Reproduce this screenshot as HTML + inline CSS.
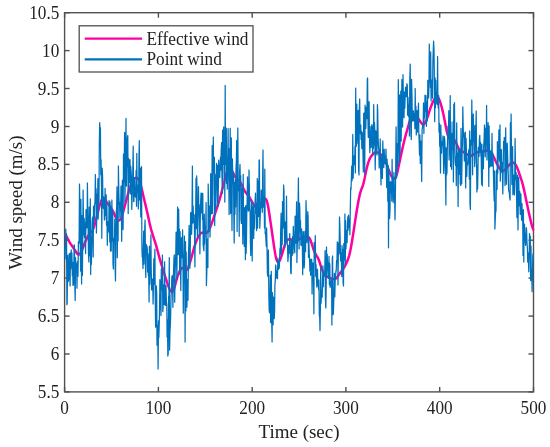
<!DOCTYPE html>
<html><head><meta charset="utf-8"><style>
html,body{margin:0;padding:0;background:#fff;width:550px;height:447px;overflow:hidden}
svg{display:block}
text{font-family:"Liberation Serif",serif;font-size:17.2px;fill:#222}
.lab{font-size:19px}
.leg{font-size:17.3px}
</style></head><body>
<svg width="550" height="447" viewBox="0 0 550 447">
<rect width="550" height="447" fill="#fff"/>
<defs><clipPath id="c"><rect x="63.8" y="11.899999999999999" width="470.5" height="380.8"/></clipPath></defs>
<g stroke="#505050" stroke-width="1.4" fill="none">
<rect x="64.6" y="12.7" width="468.9" height="379.2"/>
<line x1="64.6" y1="391.9" x2="64.6" y2="386.9"/><line x1="64.6" y1="12.7" x2="64.6" y2="17.7"/><line x1="158.4" y1="391.9" x2="158.4" y2="386.9"/><line x1="158.4" y1="12.7" x2="158.4" y2="17.7"/><line x1="252.2" y1="391.9" x2="252.2" y2="386.9"/><line x1="252.2" y1="12.7" x2="252.2" y2="17.7"/><line x1="345.9" y1="391.9" x2="345.9" y2="386.9"/><line x1="345.9" y1="12.7" x2="345.9" y2="17.7"/><line x1="439.7" y1="391.9" x2="439.7" y2="386.9"/><line x1="439.7" y1="12.7" x2="439.7" y2="17.7"/><line x1="533.5" y1="391.9" x2="533.5" y2="386.9"/><line x1="533.5" y1="12.7" x2="533.5" y2="17.7"/><line x1="64.6" y1="391.9" x2="69.6" y2="391.9"/><line x1="533.5" y1="391.9" x2="528.5" y2="391.9"/><line x1="64.6" y1="354.0" x2="69.6" y2="354.0"/><line x1="533.5" y1="354.0" x2="528.5" y2="354.0"/><line x1="64.6" y1="316.1" x2="69.6" y2="316.1"/><line x1="533.5" y1="316.1" x2="528.5" y2="316.1"/><line x1="64.6" y1="278.1" x2="69.6" y2="278.1"/><line x1="533.5" y1="278.1" x2="528.5" y2="278.1"/><line x1="64.6" y1="240.2" x2="69.6" y2="240.2"/><line x1="533.5" y1="240.2" x2="528.5" y2="240.2"/><line x1="64.6" y1="202.3" x2="69.6" y2="202.3"/><line x1="533.5" y1="202.3" x2="528.5" y2="202.3"/><line x1="64.6" y1="164.4" x2="69.6" y2="164.4"/><line x1="533.5" y1="164.4" x2="528.5" y2="164.4"/><line x1="64.6" y1="126.5" x2="69.6" y2="126.5"/><line x1="533.5" y1="126.5" x2="528.5" y2="126.5"/><line x1="64.6" y1="88.5" x2="69.6" y2="88.5"/><line x1="533.5" y1="88.5" x2="528.5" y2="88.5"/><line x1="64.6" y1="50.6" x2="69.6" y2="50.6"/><line x1="533.5" y1="50.6" x2="528.5" y2="50.6"/><line x1="64.6" y1="12.7" x2="69.6" y2="12.7"/><line x1="533.5" y1="12.7" x2="528.5" y2="12.7"/>
</g>
<g clip-path="url(#c)">
<polyline fill="none" stroke="#FF00A0" stroke-width="2.5" stroke-linejoin="round" points="64.6,234.0 65.1,234.4 65.6,235.0 66.1,235.7 66.6,236.6 67.1,237.5 67.6,238.5 68.1,239.6 68.6,240.5 69.1,241.4 69.6,242.3 70.1,243.1 70.6,243.9 71.1,244.6 71.6,245.3 72.1,246.1 72.6,246.8 73.1,247.5 73.6,248.2 74.1,249.0 74.6,249.7 75.1,250.5 75.6,251.3 76.1,252.0 76.6,252.8 77.1,253.5 77.6,254.0 78.1,254.4 78.6,254.6 79.1,254.5 79.6,254.2 80.1,253.6 80.6,252.8 81.1,251.9 81.6,250.8 82.1,249.7 82.6,248.5 83.1,247.3 83.6,246.1 84.1,244.8 84.6,243.6 85.1,242.3 85.6,241.1 86.1,240.0 86.6,238.9 87.1,237.9 87.6,236.9 88.1,236.0 88.6,235.2 89.1,234.5 89.6,233.9 90.1,233.4 90.6,232.9 91.1,232.5 91.6,231.9 92.1,231.2 92.6,230.3 93.1,229.2 93.6,227.8 94.1,226.3 94.6,224.7 95.1,222.9 95.6,221.1 96.1,219.2 96.6,217.3 97.1,215.3 97.6,213.4 98.1,211.4 98.6,209.4 99.1,207.5 99.6,205.6 100.1,204.0 100.6,202.4 101.1,201.1 101.6,200.0 102.1,199.2 102.6,198.7 103.1,198.5 103.6,198.6 104.1,199.0 104.6,199.5 105.1,200.1 105.6,200.7 106.1,201.4 106.6,202.0 107.1,202.7 107.6,203.3 108.1,204.0 108.6,204.6 109.1,205.3 109.6,205.9 110.1,206.6 110.6,207.3 111.1,208.0 111.6,208.8 112.1,209.6 112.6,210.5 113.1,211.5 113.6,212.5 114.1,213.6 114.6,214.8 115.1,215.9 115.6,217.0 116.1,218.0 116.6,218.9 117.1,219.6 117.6,220.1 118.1,220.5 118.6,220.6 119.1,220.5 119.6,220.2 120.1,219.7 120.6,218.9 121.1,218.0 121.6,216.8 122.1,215.5 122.6,213.9 123.1,212.2 123.6,210.4 124.1,208.5 124.6,206.6 125.1,204.7 125.6,202.9 126.1,201.0 126.6,199.1 127.1,197.3 127.6,195.5 128.1,193.7 128.6,191.9 129.1,190.2 129.6,188.6 130.1,187.1 130.6,185.8 131.1,184.5 131.6,183.4 132.1,182.3 132.6,181.4 133.1,180.5 133.6,179.7 134.1,179.0 134.6,178.4 135.1,178.1 135.6,177.9 136.1,177.8 136.6,177.9 137.1,178.1 137.6,178.4 138.1,178.9 138.6,179.6 139.1,180.4 139.6,181.5 140.1,182.8 140.6,184.3 141.1,186.2 141.6,188.2 142.1,190.3 142.6,192.5 143.1,194.8 143.6,197.0 144.1,199.1 144.6,201.2 145.1,203.3 145.6,205.4 146.1,207.5 146.6,209.6 147.1,211.8 147.6,214.0 148.1,216.3 148.6,218.6 149.1,220.9 149.6,223.2 150.1,225.4 150.6,227.4 151.1,229.4 151.6,231.1 152.1,232.8 152.6,234.4 153.1,236.0 153.6,237.5 154.1,239.1 154.6,240.6 155.1,242.2 155.6,243.8 156.1,245.4 156.6,247.2 157.1,249.0 157.6,250.9 158.1,252.8 158.6,254.6 159.1,256.5 159.6,258.3 160.1,260.0 160.6,261.7 161.1,263.4 161.6,265.1 162.1,266.7 162.6,268.4 163.1,270.0 163.6,271.6 164.1,273.2 164.6,274.8 165.1,276.4 165.6,278.0 166.1,279.5 166.6,281.0 167.1,282.6 167.6,284.0 168.1,285.4 168.6,286.8 169.1,288.0 169.6,289.2 170.1,290.2 170.6,290.9 171.1,291.5 171.6,291.7 172.1,291.7 172.6,291.4 173.1,290.8 173.6,289.8 174.1,288.5 174.6,287.0 175.1,285.2 175.6,283.3 176.1,281.4 176.6,279.6 177.1,277.9 177.6,276.3 178.1,274.9 178.6,273.6 179.1,272.4 179.6,271.3 180.1,270.3 180.6,269.5 181.1,268.9 181.6,268.4 182.1,268.2 182.6,268.1 183.1,268.2 183.6,268.4 184.1,268.8 184.6,269.3 185.1,269.7 185.6,270.1 186.1,270.3 186.6,270.1 187.1,269.7 187.6,268.8 188.1,267.8 188.6,266.5 189.1,265.1 189.6,263.6 190.1,262.1 190.6,260.5 191.1,258.8 191.6,257.0 192.1,255.2 192.6,253.3 193.1,251.4 193.6,249.6 194.1,247.9 194.6,246.2 195.1,244.6 195.6,243.1 196.1,241.8 196.6,240.5 197.1,239.3 197.6,238.3 198.1,237.3 198.6,236.4 199.1,235.6 199.6,234.8 200.1,234.1 200.6,233.5 201.1,233.1 201.6,232.8 202.1,232.7 202.6,232.7 203.1,232.7 203.6,232.8 204.1,232.9 204.6,233.0 205.1,233.1 205.6,233.0 206.1,232.9 206.6,232.7 207.1,232.4 207.6,232.0 208.1,231.4 208.6,230.7 209.1,229.8 209.6,228.7 210.1,227.6 210.6,226.4 211.1,225.0 211.6,223.7 212.1,222.3 212.6,220.8 213.1,219.3 213.6,217.8 214.1,216.3 214.6,214.8 215.1,213.4 215.6,211.9 216.1,210.4 216.6,208.9 217.1,207.4 217.6,205.9 218.1,204.3 218.6,202.7 219.1,201.1 219.6,199.4 220.1,197.6 220.6,195.9 221.1,194.0 221.6,192.2 222.1,190.3 222.6,188.3 223.1,186.4 223.6,184.4 224.1,182.4 224.6,180.4 225.1,178.4 225.6,176.5 226.1,174.7 226.6,173.0 227.1,171.4 227.6,170.2 228.1,169.1 228.6,168.4 229.1,167.9 229.6,167.8 230.1,168.0 230.6,168.5 231.1,169.1 231.6,169.9 232.1,170.9 232.6,171.8 233.1,172.8 233.6,173.8 234.1,174.8 234.6,175.7 235.1,176.5 235.6,177.3 236.1,177.9 236.6,178.5 237.1,179.0 237.6,179.4 238.1,179.8 238.6,180.3 239.1,180.8 239.6,181.4 240.1,182.1 240.6,182.8 241.1,183.7 241.6,184.6 242.1,185.6 242.6,186.6 243.1,187.7 243.6,188.8 244.1,189.8 244.6,190.7 245.1,191.5 245.6,192.3 246.1,192.9 246.6,193.5 247.1,194.1 247.6,194.7 248.1,195.3 248.6,196.0 249.1,196.7 249.6,197.5 250.1,198.4 250.6,199.3 251.1,200.2 251.6,201.1 252.1,202.0 252.6,202.9 253.1,203.8 253.6,204.6 254.1,205.4 254.6,206.0 255.1,206.6 255.6,207.0 256.1,207.3 256.6,207.4 257.1,207.3 257.6,207.0 258.1,206.7 258.6,206.2 259.1,205.6 259.6,205.0 260.1,204.3 260.6,203.6 261.1,202.9 261.6,202.2 262.1,201.5 262.6,200.8 263.1,200.1 263.6,199.5 264.1,199.1 264.6,198.8 265.1,198.7 265.6,198.9 266.1,199.4 266.6,200.5 267.1,202.0 267.6,204.0 268.1,206.5 268.6,209.3 269.1,212.5 269.6,215.8 270.1,219.2 270.6,222.6 271.1,226.0 271.6,229.5 272.1,233.0 272.6,236.5 273.1,240.0 273.6,243.5 274.1,246.9 274.6,250.1 275.1,253.1 275.6,255.8 276.1,258.1 276.6,259.8 277.1,261.1 277.6,261.8 278.1,262.1 278.6,262.0 279.1,261.5 279.6,260.8 280.1,259.8 280.6,258.6 281.1,257.2 281.6,255.7 282.1,254.1 282.6,252.4 283.1,250.7 283.6,249.0 284.1,247.3 284.6,245.7 285.1,244.2 285.6,242.9 286.1,241.8 286.6,240.9 287.1,240.3 287.6,239.8 288.1,239.5 288.6,239.4 289.1,239.3 289.6,239.3 290.1,239.3 290.6,239.4 291.1,239.4 291.6,239.5 292.1,239.5 292.6,239.6 293.1,239.7 293.6,239.8 294.1,239.9 294.6,239.9 295.1,240.0 295.6,240.0 296.1,240.0 296.6,240.0 297.1,239.9 297.6,239.8 298.1,239.6 298.6,239.5 299.1,239.2 299.6,239.0 300.1,238.7 300.6,238.4 301.1,238.1 301.6,237.8 302.1,237.5 302.6,237.2 303.1,236.9 303.6,236.7 304.1,236.6 304.6,236.4 305.1,236.4 305.6,236.3 306.1,236.3 306.6,236.4 307.1,236.5 307.6,236.7 308.1,236.9 308.6,237.2 309.1,237.7 309.6,238.3 310.1,239.2 310.6,240.4 311.1,241.8 311.6,243.4 312.1,245.0 312.6,246.6 313.1,248.2 313.6,249.7 314.1,251.0 314.6,252.1 315.1,253.2 315.6,254.1 316.1,255.0 316.6,255.8 317.1,256.6 317.6,257.4 318.1,258.3 318.6,259.4 319.1,260.7 319.6,262.2 320.1,263.7 320.6,265.3 321.1,266.9 321.6,268.3 322.1,269.6 322.6,270.8 323.1,271.9 323.6,272.8 324.1,273.6 324.6,274.3 325.1,274.9 325.6,275.4 326.1,275.9 326.6,276.3 327.1,276.7 327.6,277.0 328.1,277.3 328.6,277.5 329.1,277.7 329.6,277.9 330.1,278.1 330.6,278.3 331.1,278.4 331.6,278.6 332.1,278.7 332.6,278.9 333.1,279.0 333.6,279.1 334.1,279.1 334.6,279.1 335.1,279.0 335.6,278.8 336.1,278.5 336.6,278.0 337.1,277.4 337.6,276.7 338.1,275.9 338.6,275.2 339.1,274.4 339.6,273.7 340.1,273.0 340.6,272.3 341.1,271.7 341.6,271.0 342.1,270.3 342.6,269.7 343.1,269.0 343.6,268.2 344.1,267.5 344.6,266.6 345.1,265.8 345.6,264.8 346.1,263.8 346.6,262.7 347.1,261.5 347.6,260.3 348.1,258.9 348.6,257.4 349.1,255.8 349.6,253.9 350.1,251.7 350.6,249.3 351.1,246.6 351.6,243.7 352.1,240.7 352.6,237.5 353.1,234.4 353.6,231.2 354.1,227.9 354.6,224.6 355.1,221.4 355.6,218.1 356.1,214.9 356.6,211.8 357.1,208.8 357.6,205.8 358.1,203.0 358.6,200.3 359.1,197.7 359.6,195.4 360.1,193.4 360.6,191.6 361.1,190.1 361.6,188.8 362.1,187.5 362.6,186.2 363.1,184.7 363.6,182.9 364.1,180.8 364.6,178.6 365.1,176.1 365.6,173.6 366.1,171.1 366.6,168.8 367.1,166.7 367.6,164.8 368.1,163.1 368.6,161.7 369.1,160.3 369.6,159.1 370.1,158.1 370.6,157.2 371.1,156.4 371.6,155.7 372.1,155.1 372.6,154.5 373.1,154.0 373.6,153.6 374.1,153.1 374.6,152.8 375.1,152.5 375.6,152.3 376.1,152.3 376.6,152.3 377.1,152.4 377.6,152.5 378.1,152.7 378.6,152.9 379.1,153.1 379.6,153.4 380.1,153.8 380.6,154.2 381.1,154.7 381.6,155.2 382.1,155.8 382.6,156.5 383.1,157.1 383.6,157.9 384.1,158.6 384.6,159.5 385.1,160.4 385.6,161.5 386.1,162.7 386.6,164.1 387.1,165.4 387.6,166.9 388.1,168.3 388.6,169.7 389.1,171.1 389.6,172.3 390.1,173.5 390.6,174.5 391.1,175.5 391.6,176.4 392.1,177.1 392.6,177.8 393.1,178.3 393.6,178.6 394.1,178.8 394.6,178.7 395.1,178.3 395.6,177.5 396.1,176.4 396.6,175.0 397.1,173.1 397.6,171.1 398.1,168.8 398.6,166.5 399.1,164.1 399.6,161.7 400.1,159.3 400.6,157.0 401.1,154.7 401.6,152.3 402.1,150.1 402.6,147.8 403.1,145.6 403.6,143.4 404.1,141.3 404.6,139.3 405.1,137.4 405.6,135.5 406.1,133.7 406.6,132.0 407.1,130.3 407.6,128.5 408.1,126.7 408.6,125.0 409.1,123.2 409.6,121.5 410.1,119.9 410.6,118.5 411.1,117.4 411.6,116.5 412.1,115.9 412.6,115.5 413.1,115.3 413.6,115.3 414.1,115.4 414.6,115.5 415.1,115.8 415.6,116.1 416.1,116.5 416.6,116.9 417.1,117.4 417.6,117.9 418.1,118.5 418.6,119.1 419.1,119.8 419.6,120.4 420.1,121.2 420.6,121.9 421.1,122.6 421.6,123.3 422.1,123.9 422.6,124.3 423.1,124.5 423.6,124.5 424.1,124.1 424.6,123.5 425.1,122.7 425.6,121.8 426.1,120.7 426.6,119.5 427.1,118.2 427.6,116.8 428.1,115.3 428.6,113.8 429.1,112.2 429.6,110.7 430.1,109.2 430.6,107.7 431.1,106.3 431.6,105.0 432.1,103.8 432.6,102.6 433.1,101.5 433.6,100.6 434.1,99.7 434.6,98.9 435.1,98.3 435.6,97.9 436.1,97.5 436.6,97.3 437.1,97.2 437.6,97.4 438.1,97.8 438.6,98.4 439.1,99.3 439.6,100.5 440.1,101.8 440.6,103.3 441.1,105.0 441.6,106.8 442.1,108.8 442.6,110.9 443.1,113.0 443.6,115.3 444.1,117.8 444.6,120.3 445.1,122.8 445.6,125.4 446.1,128.0 446.6,130.4 447.1,132.7 447.6,134.6 448.1,136.1 448.6,137.3 449.1,138.0 449.6,138.5 450.1,138.6 450.6,138.7 451.1,138.6 451.6,138.6 452.1,138.7 452.6,138.9 453.1,139.1 453.6,139.4 454.1,139.9 454.6,140.5 455.1,141.2 455.6,142.0 456.1,143.0 456.6,144.0 457.1,145.2 457.6,146.3 458.1,147.4 458.6,148.3 459.1,149.1 459.6,149.7 460.1,150.2 460.6,150.6 461.1,150.9 461.6,151.2 462.1,151.5 462.6,151.7 463.1,152.0 463.6,152.2 464.1,152.5 464.6,152.8 465.1,153.1 465.6,153.3 466.1,153.7 466.6,154.0 467.1,154.3 467.6,154.6 468.1,155.0 468.6,155.3 469.1,155.6 469.6,155.9 470.1,156.0 470.6,156.0 471.1,155.9 471.6,155.7 472.1,155.4 472.6,155.1 473.1,154.8 473.6,154.4 474.1,154.1 474.6,153.8 475.1,153.5 475.6,153.2 476.1,152.9 476.6,152.7 477.1,152.4 477.6,152.2 478.1,152.0 478.6,151.9 479.1,151.7 479.6,151.6 480.1,151.5 480.6,151.4 481.1,151.3 481.6,151.3 482.1,151.3 482.6,151.3 483.1,151.2 483.6,151.2 484.1,151.1 484.6,151.0 485.1,151.0 485.6,150.9 486.1,150.8 486.6,150.8 487.1,150.8 487.6,150.8 488.1,150.9 488.6,151.0 489.1,151.2 489.6,151.5 490.1,151.8 490.6,152.3 491.1,152.8 491.6,153.4 492.1,154.1 492.6,154.9 493.1,155.8 493.6,156.7 494.1,157.7 494.6,158.8 495.1,159.9 495.6,161.0 496.1,162.0 496.6,163.1 497.1,164.1 497.6,165.0 498.1,166.0 498.6,166.8 499.1,167.6 499.6,168.4 500.1,169.1 500.6,169.7 501.1,170.3 501.6,170.7 502.1,170.9 502.6,171.0 503.1,171.0 503.6,170.8 504.1,170.5 504.6,170.1 505.1,169.7 505.6,169.1 506.1,168.6 506.6,168.0 507.1,167.4 507.6,166.8 508.1,166.2 508.6,165.7 509.1,165.2 509.6,164.6 510.1,164.2 510.6,163.7 511.1,163.3 511.6,163.0 512.1,162.8 512.6,162.7 513.1,162.7 513.6,162.8 514.1,163.1 514.6,163.5 515.1,164.0 515.6,164.7 516.1,165.5 516.6,166.5 517.1,167.6 517.6,168.9 518.1,170.2 518.6,171.6 519.1,173.0 519.6,174.5 520.1,175.9 520.6,177.4 521.1,179.0 521.6,180.5 522.1,182.2 522.6,184.0 523.1,185.9 523.6,187.9 524.1,190.1 524.6,192.4 525.1,194.8 525.6,197.2 526.1,199.7 526.6,202.1 527.1,204.5 527.6,206.8 528.1,209.2 528.6,211.5 529.1,213.8 529.6,216.0 530.1,218.2 530.6,220.4 531.1,222.4 531.6,224.3 532.1,226.1 532.6,227.7 533.1,229.0 533.6,230.1 534.1,230.9"/>
<polyline fill="none" stroke="#0072BD" stroke-width="1.25" stroke-linejoin="round" points="64.7,248.2 65.1,258.9 65.4,244.9 65.8,229.1 66.1,245.3 66.5,233.8 66.9,304.7 67.2,302.8 67.6,257.4 67.9,255.1 68.3,281.4 68.7,278.6 69.0,273.4 69.4,253.5 69.7,272.2 70.1,285.9 70.5,253.2 70.8,269.0 71.2,249.8 71.6,259.7 71.9,252.9 72.3,275.7 72.6,262.0 73.0,285.4 73.4,285.0 73.7,280.6 74.1,245.3 74.4,245.0 74.8,284.1 75.2,300.5 75.5,257.5 75.9,272.8 76.2,263.7 76.6,264.5 77.0,288.2 77.3,261.5 77.7,267.4 78.0,276.3 78.4,241.9 78.8,243.6 79.1,241.7 79.5,184.0 79.8,199.1 80.2,236.4 80.6,271.1 80.9,199.3 81.3,258.1 81.6,284.0 82.0,215.5 82.4,275.3 82.7,243.3 83.1,190.0 83.5,223.9 83.8,234.9 84.2,218.4 84.5,237.7 84.9,222.4 85.3,238.0 85.6,253.6 86.0,209.6 86.3,228.3 86.7,213.4 87.1,227.7 87.4,183.0 87.8,212.8 88.1,225.3 88.5,254.7 88.9,262.0 89.2,207.2 89.6,221.9 89.9,255.5 90.3,198.8 90.7,274.5 91.0,236.2 91.4,264.2 91.7,248.7 92.1,222.1 92.5,217.7 92.8,217.0 93.2,256.9 93.5,206.2 93.9,206.3 94.3,220.8 94.6,206.0 95.0,201.6 95.4,174.5 95.7,203.6 96.1,188.5 96.4,233.1 96.8,216.1 97.2,194.0 97.5,211.8 97.9,178.6 98.2,218.9 98.6,185.3 99.0,201.3 99.3,144.8 99.7,122.6 100.0,133.9 100.4,127.5 100.8,174.8 101.1,159.7 101.5,187.2 101.8,238.3 102.2,168.0 102.6,176.9 102.9,199.2 103.3,208.3 103.6,196.8 104.0,199.1 104.4,220.0 104.7,218.6 105.1,188.4 105.4,210.7 105.8,215.4 106.2,194.8 106.5,225.3 106.9,205.1 107.3,245.3 107.6,232.1 108.0,232.6 108.3,221.4 108.7,231.2 109.1,200.5 109.4,216.3 109.8,242.0 110.1,201.9 110.5,251.2 110.9,207.0 111.2,250.9 111.6,221.9 111.9,200.0 112.3,240.9 112.7,210.3 113.0,263.7 113.4,269.0 113.7,241.7 114.1,238.3 114.5,239.8 114.8,219.1 115.2,270.8 115.5,281.0 115.9,237.0 116.3,210.6 116.6,210.8 117.0,186.8 117.3,257.7 117.7,211.4 118.1,240.8 118.4,166.0 118.8,190.3 119.2,204.3 119.5,202.3 119.9,217.7 120.2,209.8 120.6,209.2 121.0,186.1 121.3,195.1 121.7,241.3 122.0,193.3 122.4,180.2 122.8,206.8 123.1,229.6 123.5,154.1 123.8,182.3 124.2,167.3 124.6,132.5 124.9,202.0 125.3,176.7 125.6,176.9 126.0,118.4 126.4,186.1 126.7,154.2 127.1,166.7 127.4,137.8 127.8,135.5 128.2,213.5 128.5,158.1 128.9,182.6 129.3,173.2 129.6,161.2 130.0,159.5 130.3,194.1 130.7,166.2 131.1,171.3 131.4,176.8 131.8,209.4 132.1,195.7 132.5,187.8 132.9,164.4 133.2,146.1 133.6,201.5 133.9,201.7 134.3,177.6 134.7,191.7 135.0,196.1 135.4,196.3 135.7,197.3 136.1,170.5 136.5,206.3 136.8,153.4 137.2,192.2 137.5,184.8 137.9,191.4 138.3,208.9 138.6,201.8 139.0,155.1 139.3,140.7 139.7,199.9 140.1,168.1 140.4,193.7 140.8,217.0 141.2,169.6 141.5,166.7 141.9,246.5 142.2,257.1 142.6,256.8 143.0,268.5 143.3,247.3 143.7,231.1 144.0,264.1 144.4,243.7 144.8,225.8 145.1,220.0 145.5,266.1 145.8,277.6 146.2,244.4 146.6,252.9 146.9,246.0 147.3,249.2 147.6,272.0 148.0,253.8 148.4,275.7 148.7,274.5 149.1,302.0 149.4,246.0 149.8,284.6 150.2,269.3 150.5,271.8 150.9,235.0 151.2,267.5 151.6,289.9 152.0,278.5 152.3,283.3 152.7,279.7 153.1,304.0 153.4,289.1 153.8,258.8 154.1,284.5 154.5,267.1 154.9,249.1 155.2,293.7 155.6,327.2 155.9,306.2 156.3,285.8 156.7,293.0 157.0,345.2 157.4,325.3 157.7,325.6 158.1,369.0 158.5,320.8 158.8,337.7 159.2,325.7 159.5,312.6 159.9,279.7 160.3,309.4 160.6,282.3 161.0,315.5 161.3,268.9 161.7,288.8 162.1,289.6 162.4,255.0 162.8,311.6 163.1,307.9 163.5,284.8 163.9,304.5 164.2,301.9 164.6,261.8 165.0,305.1 165.3,301.7 165.7,305.4 166.0,285.3 166.4,301.4 166.8,304.6 167.1,337.1 167.5,319.6 167.8,356.0 168.2,353.9 168.6,296.1 168.9,298.9 169.3,257.6 169.6,350.1 170.0,331.0 170.4,324.9 170.7,313.2 171.1,293.9 171.4,293.1 171.8,277.7 172.2,275.7 172.5,278.4 172.9,307.3 173.2,284.3 173.6,269.8 174.0,257.3 174.3,254.8 174.7,302.2 175.0,277.0 175.4,264.6 175.8,252.8 176.1,232.1 176.5,255.9 176.9,279.3 177.2,243.0 177.6,207.0 177.9,245.0 178.3,254.7 178.7,209.2 179.0,245.3 179.4,229.0 179.7,274.1 180.1,231.7 180.5,266.3 180.8,290.5 181.2,244.4 181.5,237.6 181.9,257.7 182.3,253.5 182.6,229.9 183.0,268.2 183.3,313.2 183.7,255.3 184.1,259.7 184.4,236.0 184.8,282.7 185.1,342.0 185.5,241.7 185.9,310.9 186.2,252.0 186.6,300.4 186.9,307.2 187.3,279.7 187.7,281.6 188.0,300.3 188.4,257.5 188.8,244.9 189.1,225.4 189.5,244.8 189.8,268.6 190.2,256.8 190.6,213.7 190.9,212.4 191.3,217.5 191.6,234.3 192.0,216.2 192.4,166.0 192.7,223.2 193.1,205.8 193.4,214.5 193.8,222.5 194.2,214.7 194.5,231.0 194.9,266.9 195.2,233.2 195.6,220.0 196.0,178.5 196.3,228.5 196.7,175.9 197.0,188.8 197.4,236.7 197.8,232.8 198.1,215.6 198.5,186.7 198.8,210.9 199.2,204.5 199.6,226.8 199.9,253.8 200.3,218.1 200.7,200.4 201.0,193.2 201.4,212.8 201.7,211.2 202.1,193.1 202.5,219.5 202.8,193.6 203.2,245.5 203.5,247.3 203.9,250.8 204.3,214.2 204.6,244.1 205.0,229.7 205.3,225.6 205.7,230.7 206.1,202.5 206.4,285.5 206.8,273.1 207.1,239.2 207.5,248.0 207.9,267.5 208.2,184.0 208.6,208.0 208.9,230.4 209.3,231.2 209.7,206.1 210.0,237.1 210.4,212.3 210.7,173.7 211.1,177.0 211.5,213.9 211.8,202.0 212.2,145.5 212.6,213.4 212.9,194.1 213.3,137.0 213.6,170.5 214.0,172.8 214.4,157.3 214.7,225.5 215.1,177.5 215.4,209.6 215.8,174.1 216.2,189.6 216.5,163.4 216.9,184.6 217.2,205.2 217.6,165.1 218.0,206.6 218.3,191.3 218.7,160.2 219.0,169.7 219.4,168.5 219.8,177.6 220.1,165.1 220.5,157.1 220.8,170.0 221.2,150.3 221.6,142.5 221.9,172.3 222.3,193.4 222.6,130.1 223.0,164.3 223.4,141.8 223.7,126.9 224.1,179.4 224.5,131.4 224.8,202.0 225.2,85.4 225.5,164.3 225.9,144.2 226.3,128.2 226.6,183.6 227.0,157.9 227.3,189.2 227.7,166.4 228.1,128.6 228.4,168.7 228.8,176.9 229.1,214.6 229.5,148.4 229.9,183.8 230.2,128.3 230.6,213.6 230.9,157.6 231.3,137.8 231.7,195.3 232.0,230.6 232.4,158.9 232.7,174.3 233.1,183.6 233.5,173.4 233.8,212.9 234.2,243.0 234.5,182.6 234.9,214.4 235.3,179.7 235.6,206.9 236.0,169.5 236.4,159.9 236.7,140.3 237.1,231.4 237.4,173.7 237.8,128.0 238.2,183.2 238.5,190.8 238.9,190.7 239.2,236.3 239.6,172.0 240.0,164.3 240.3,179.1 240.7,175.6 241.0,219.8 241.4,223.5 241.8,192.4 242.1,187.9 242.5,210.2 242.8,244.0 243.2,174.3 243.6,233.7 243.9,208.4 244.3,246.5 244.6,207.7 245.0,222.8 245.4,259.7 245.7,205.6 246.1,253.5 246.5,239.0 246.8,211.2 247.2,199.5 247.5,176.9 247.9,205.0 248.3,211.1 248.6,209.1 249.0,170.0 249.3,184.8 249.7,209.9 250.1,211.6 250.4,242.2 250.8,255.6 251.1,213.6 251.5,201.2 251.9,219.4 252.2,261.0 252.6,206.6 252.9,223.2 253.3,203.0 253.7,238.5 254.0,222.3 254.4,228.3 254.7,216.5 255.1,201.1 255.5,193.2 255.8,213.0 256.2,203.1 256.5,230.6 256.9,224.9 257.3,178.5 257.6,228.1 258.0,181.0 258.4,205.9 258.7,216.4 259.1,160.1 259.4,160.0 259.8,228.2 260.2,217.1 260.5,207.7 260.9,207.9 261.2,190.0 261.6,207.0 262.0,196.4 262.3,212.3 262.7,171.4 263.0,150.0 263.4,207.0 263.8,201.4 264.1,196.8 264.5,227.9 264.8,169.1 265.2,233.8 265.6,232.7 265.9,238.9 266.3,246.5 266.6,227.9 267.0,244.9 267.4,273.6 267.7,275.6 268.1,276.8 268.4,250.0 268.8,294.1 269.2,310.5 269.5,312.7 269.9,303.6 270.3,275.1 270.6,322.5 271.0,306.8 271.3,271.3 271.7,321.0 272.1,342.0 272.4,292.6 272.8,299.7 273.1,324.8 273.5,297.2 273.9,303.1 274.2,318.7 274.6,311.5 274.9,285.6 275.3,280.1 275.7,265.0 276.0,268.0 276.4,277.9 276.7,275.8 277.1,270.9 277.5,278.6 277.8,258.1 278.2,263.6 278.5,269.4 278.9,265.2 279.3,268.2 279.6,258.4 280.0,248.2 280.3,254.7 280.7,229.7 281.1,213.2 281.4,253.0 281.8,237.8 282.2,244.5 282.5,201.6 282.9,228.3 283.2,222.7 283.6,185.0 284.0,191.6 284.3,226.8 284.7,247.4 285.0,237.8 285.4,222.0 285.8,230.3 286.1,241.9 286.5,196.1 286.8,232.7 287.2,243.0 287.6,246.1 287.9,261.5 288.3,255.4 288.6,245.4 289.0,245.7 289.4,253.2 289.7,233.7 290.1,241.4 290.4,256.3 290.8,273.2 291.2,273.7 291.5,240.0 291.9,242.2 292.2,255.6 292.6,236.6 293.0,253.7 293.3,226.4 293.7,235.4 294.1,235.2 294.4,248.4 294.8,252.8 295.1,216.2 295.5,224.2 295.9,243.1 296.2,223.1 296.6,201.8 296.9,262.5 297.3,242.8 297.7,240.7 298.0,209.8 298.4,178.0 298.7,213.6 299.1,248.9 299.5,203.0 299.8,208.5 300.2,231.8 300.5,220.5 300.9,245.2 301.3,241.9 301.6,228.8 302.0,246.0 302.3,239.3 302.7,274.7 303.1,231.4 303.4,232.2 303.8,255.1 304.1,268.0 304.5,262.7 304.9,231.4 305.2,232.0 305.6,251.6 306.0,200.6 306.3,211.7 306.7,233.9 307.0,242.6 307.4,223.0 307.8,211.7 308.1,217.4 308.5,257.4 308.8,237.2 309.2,251.9 309.6,261.2 309.9,270.9 310.3,259.7 310.6,275.2 311.0,259.2 311.4,268.7 311.7,259.3 312.1,294.0 312.4,275.9 312.8,262.8 313.2,268.8 313.5,270.2 313.9,313.8 314.2,242.5 314.6,249.4 315.0,258.0 315.3,235.6 315.7,276.3 316.0,264.4 316.4,275.4 316.8,287.1 317.1,269.2 317.5,269.8 317.9,285.8 318.2,283.8 318.6,289.8 318.9,279.9 319.3,315.1 319.7,317.9 320.0,330.6 320.4,307.7 320.7,266.2 321.1,303.2 321.5,290.3 321.8,296.4 322.2,297.3 322.5,283.3 322.9,265.9 323.3,286.8 323.6,272.4 324.0,276.2 324.3,272.8 324.7,276.2 325.1,250.7 325.4,297.9 325.8,308.0 326.1,294.0 326.5,247.0 326.9,277.0 327.2,254.2 327.6,265.2 327.9,261.9 328.3,270.5 328.7,278.4 329.0,256.3 329.4,284.7 329.8,263.7 330.1,287.3 330.5,283.2 330.8,281.4 331.2,286.2 331.6,279.5 331.9,325.0 332.3,258.9 332.6,256.0 333.0,314.7 333.4,313.8 333.7,301.7 334.1,291.5 334.4,273.3 334.8,296.8 335.2,279.6 335.5,277.8 335.9,271.1 336.2,270.9 336.6,260.4 337.0,260.3 337.3,241.9 337.7,247.6 338.0,284.9 338.4,247.2 338.8,242.5 339.1,253.9 339.5,217.0 339.8,224.3 340.2,241.6 340.6,261.0 340.9,253.0 341.3,252.9 341.7,276.5 342.0,245.5 342.4,258.5 342.7,249.4 343.1,282.5 343.5,286.0 343.8,243.6 344.2,243.5 344.5,259.8 344.9,214.0 345.3,264.0 345.6,220.7 346.0,248.8 346.3,235.4 346.7,230.8 347.1,242.7 347.4,227.5 347.8,216.8 348.1,230.3 348.5,215.2 348.9,219.7 349.2,227.1 349.6,222.6 349.9,234.7 350.3,208.9 350.7,187.6 351.0,189.6 351.4,178.7 351.7,166.2 352.1,180.7 352.5,161.8 352.8,134.5 353.2,178.2 353.6,158.8 353.9,165.0 354.3,155.6 354.6,164.3 355.0,146.3 355.4,172.9 355.7,88.0 356.1,146.2 356.4,146.2 356.8,104.1 357.2,135.2 357.5,134.1 357.9,143.5 358.2,110.3 358.6,170.1 359.0,175.0 359.3,109.9 359.7,99.0 360.0,129.0 360.4,133.8 360.8,125.0 361.1,139.4 361.5,131.3 361.8,148.6 362.2,132.3 362.6,137.7 362.9,149.3 363.3,171.9 363.7,113.3 364.0,120.2 364.4,112.8 364.7,174.0 365.1,105.2 365.5,118.8 365.8,128.6 366.2,107.3 366.5,107.6 366.9,118.6 367.3,79.4 367.6,78.0 368.0,122.4 368.3,137.5 368.7,132.2 369.1,101.7 369.4,130.1 369.8,152.7 370.1,147.2 370.5,137.1 370.9,126.3 371.2,147.6 371.6,133.1 371.9,124.6 372.3,126.3 372.7,154.2 373.0,135.4 373.4,148.3 373.7,104.7 374.1,145.2 374.5,122.7 374.8,130.6 375.2,169.8 375.6,146.9 375.9,130.9 376.3,135.6 376.6,141.0 377.0,155.1 377.4,104.7 377.7,110.8 378.1,137.6 378.4,145.3 378.8,149.8 379.2,168.0 379.5,156.6 379.9,163.7 380.2,138.9 380.6,166.2 381.0,185.0 381.3,165.7 381.7,158.0 382.0,156.2 382.4,178.4 382.8,140.9 383.1,152.9 383.5,162.4 383.8,167.5 384.2,149.3 384.6,163.1 384.9,155.8 385.3,163.8 385.6,162.0 386.0,149.0 386.4,169.5 386.7,187.6 387.1,159.2 387.5,176.6 387.8,201.3 388.2,165.3 388.5,247.8 388.9,169.7 389.3,208.5 389.6,218.5 390.0,210.2 390.3,181.6 390.7,192.6 391.1,183.4 391.4,182.0 391.8,201.0 392.1,159.4 392.5,192.8 392.9,177.4 393.2,202.5 393.6,185.1 393.9,172.4 394.3,191.2 394.7,202.3 395.0,219.8 395.4,193.7 395.7,167.8 396.1,126.8 396.5,178.1 396.8,165.8 397.2,149.2 397.5,143.3 397.9,166.3 398.3,79.6 398.6,113.3 399.0,126.9 399.4,161.5 399.7,94.9 400.1,153.6 400.4,105.6 400.8,91.2 401.2,141.1 401.5,107.9 401.9,79.5 402.2,98.3 402.6,127.1 403.0,74.7 403.3,94.8 403.7,112.5 404.0,117.7 404.4,92.1 404.8,108.3 405.1,99.0 405.5,87.5 405.8,87.1 406.2,96.7 406.6,95.5 406.9,83.6 407.3,85.7 407.6,115.2 408.0,97.1 408.4,110.5 408.7,116.6 409.1,104.9 409.4,136.1 409.8,80.0 410.2,64.2 410.5,94.7 410.9,133.7 411.3,139.5 411.6,79.3 412.0,96.1 412.3,119.4 412.7,121.2 413.1,120.7 413.4,110.8 413.8,117.5 414.1,120.6 414.5,113.3 414.9,128.8 415.2,88.5 415.6,127.4 415.9,105.9 416.3,134.9 416.7,119.2 417.0,110.6 417.4,132.1 417.7,112.2 418.1,113.2 418.5,103.2 418.8,131.9 419.2,143.2 419.5,155.1 419.9,134.8 420.3,163.5 420.6,142.4 421.0,141.2 421.3,158.7 421.7,181.5 422.1,129.7 422.4,127.8 422.8,125.3 423.2,125.9 423.5,102.9 423.9,133.5 424.2,106.1 424.6,117.8 425.0,95.1 425.3,111.3 425.7,109.4 426.0,95.7 426.4,126.3 426.8,102.3 427.1,121.2 427.5,108.3 427.8,80.4 428.2,83.5 428.6,97.9 428.9,89.2 429.3,44.0 429.6,82.4 430.0,54.9 430.4,87.3 430.7,51.8 431.1,100.9 431.4,81.2 431.8,80.1 432.2,88.8 432.5,98.2 432.9,60.7 433.2,51.7 433.6,41.2 434.0,49.2 434.3,73.6 434.7,121.7 435.1,77.9 435.4,107.7 435.8,80.3 436.1,103.2 436.5,92.3 436.9,94.9 437.2,104.5 437.6,56.5 437.9,101.4 438.3,108.0 438.7,95.7 439.0,132.0 439.4,123.2 439.7,146.3 440.1,138.9 440.5,173.0 440.8,125.0 441.2,143.8 441.5,153.2 441.9,144.3 442.3,141.7 442.6,145.1 443.0,135.9 443.3,149.0 443.7,173.5 444.1,162.8 444.4,136.6 444.8,140.3 445.1,149.3 445.5,176.2 445.9,205.0 446.2,147.8 446.6,175.0 447.0,171.9 447.3,149.3 447.7,135.5 448.0,126.2 448.4,137.6 448.8,110.7 449.1,159.9 449.5,133.9 449.8,153.9 450.2,95.6 450.6,166.6 450.9,122.0 451.3,162.4 451.6,169.3 452.0,135.2 452.4,133.2 452.7,149.6 453.1,121.4 453.4,182.0 453.8,104.5 454.2,131.1 454.5,102.6 454.9,151.8 455.2,161.7 455.6,165.4 456.0,156.9 456.3,185.7 456.7,122.9 457.0,165.8 457.4,153.2 457.8,170.0 458.1,206.6 458.5,149.2 458.9,153.0 459.2,174.4 459.6,165.7 459.9,150.3 460.3,183.5 460.7,185.4 461.0,128.3 461.4,151.1 461.7,183.8 462.1,153.9 462.5,141.5 462.8,106.8 463.2,127.0 463.5,136.5 463.9,132.8 464.3,161.1 464.6,141.5 465.0,143.6 465.3,132.1 465.7,188.0 466.1,138.3 466.4,151.5 466.8,176.3 467.1,161.8 467.5,165.2 467.9,162.4 468.2,155.3 468.6,152.1 468.9,149.5 469.3,179.1 469.7,130.9 470.0,204.0 470.4,209.4 470.8,140.2 471.1,145.3 471.5,137.5 471.8,100.0 472.2,133.5 472.6,174.8 472.9,136.7 473.3,114.0 473.6,141.1 474.0,125.1 474.4,150.9 474.7,166.7 475.1,160.0 475.4,125.7 475.8,133.4 476.2,111.0 476.5,152.8 476.9,192.0 477.2,165.6 477.6,189.1 478.0,167.8 478.3,147.4 478.7,151.8 479.0,156.5 479.4,139.4 479.8,135.4 480.1,152.2 480.5,142.1 480.9,155.3 481.2,157.5 481.6,184.3 481.9,144.2 482.3,186.0 482.7,152.4 483.0,160.3 483.4,168.7 483.7,145.5 484.1,139.3 484.5,125.0 484.8,134.3 485.2,156.8 485.5,148.3 485.9,128.2 486.3,139.7 486.6,105.4 487.0,160.0 487.3,140.5 487.7,149.9 488.1,122.7 488.4,137.5 488.8,186.4 489.1,125.8 489.5,157.3 489.9,167.0 490.2,157.8 490.6,150.9 490.9,164.1 491.3,166.0 491.7,165.5 492.0,133.4 492.4,165.9 492.8,153.0 493.1,159.7 493.5,176.1 493.8,188.8 494.2,201.0 494.6,170.8 494.9,229.0 495.3,218.8 495.6,211.6 496.0,211.2 496.4,172.1 496.7,170.0 497.1,189.6 497.4,141.7 497.8,173.1 498.2,156.3 498.5,158.4 498.9,129.9 499.2,144.9 499.6,161.1 500.0,125.0 500.3,181.2 500.7,160.7 501.0,159.7 501.4,149.5 501.8,172.3 502.1,162.4 502.5,176.8 502.8,194.0 503.2,166.3 503.6,141.3 503.9,149.7 504.3,137.3 504.7,139.8 505.0,185.6 505.4,164.0 505.7,127.8 506.1,171.8 506.5,184.3 506.8,150.0 507.2,143.1 507.5,150.9 507.9,165.6 508.3,175.0 508.6,189.5 509.0,191.9 509.3,192.3 509.7,197.9 510.1,200.0 510.4,122.9 510.8,158.8 511.1,114.0 511.5,153.2 511.9,184.5 512.2,156.7 512.6,146.6 512.9,194.7 513.3,181.5 513.7,175.0 514.0,189.4 514.4,194.9 514.7,184.9 515.1,138.5 515.5,172.9 515.8,179.6 516.2,172.7 516.6,197.2 516.9,217.6 517.3,186.5 517.6,175.2 518.0,229.9 518.4,188.2 518.7,177.4 519.1,201.9 519.4,205.8 519.8,191.5 520.2,214.3 520.5,198.4 520.9,193.9 521.2,210.3 521.6,220.3 522.0,203.6 522.3,217.9 522.7,214.2 523.0,255.4 523.4,209.7 523.8,262.0 524.1,223.8 524.5,224.6 524.8,237.2 525.2,240.5 525.6,245.4 525.9,235.9 526.3,227.7 526.6,230.0 527.0,243.4 527.4,247.9 527.7,262.1 528.1,252.9 528.5,263.6 528.8,271.8 529.2,254.9 529.5,233.6 529.9,238.8 530.3,236.3 530.6,280.5 531.0,246.2 531.3,278.9 531.7,269.6 532.1,291.7 532.4,277.9 532.8,256.5 533.1,253.6 533.5,257.8"/>
</g>
<g><text transform="translate(64.6,413.6) scale(1,1.04)" text-anchor="middle">0</text><text transform="translate(158.4,413.6) scale(1,1.04)" text-anchor="middle">100</text><text transform="translate(252.2,413.6) scale(1,1.04)" text-anchor="middle">200</text><text transform="translate(345.9,413.6) scale(1,1.04)" text-anchor="middle">300</text><text transform="translate(439.7,413.6) scale(1,1.04)" text-anchor="middle">400</text><text transform="translate(533.5,413.6) scale(1,1.04)" text-anchor="middle">500</text><text transform="translate(59.3,397.9) scale(1,1.04)" text-anchor="end">5.5</text><text transform="translate(59.3,360.0) scale(1,1.04)" text-anchor="end">6</text><text transform="translate(59.3,322.1) scale(1,1.04)" text-anchor="end">6.5</text><text transform="translate(59.3,284.1) scale(1,1.04)" text-anchor="end">7</text><text transform="translate(59.3,246.2) scale(1,1.04)" text-anchor="end">7.5</text><text transform="translate(59.3,208.3) scale(1,1.04)" text-anchor="end">8</text><text transform="translate(59.3,170.4) scale(1,1.04)" text-anchor="end">8.5</text><text transform="translate(59.3,132.5) scale(1,1.04)" text-anchor="end">9</text><text transform="translate(59.3,94.5) scale(1,1.04)" text-anchor="end">9.5</text><text transform="translate(59.3,56.6) scale(1,1.04)" text-anchor="end">10</text><text transform="translate(59.3,18.7) scale(1,1.04)" text-anchor="end">10.5</text></g>
<text class="lab" x="299" y="437.5" text-anchor="middle">Time (sec)</text>
<text class="lab" transform="translate(22.3,202.6) rotate(-90)" text-anchor="middle">Wind speed (m/s)</text>
<rect x="79.2" y="25.8" width="173.8" height="46.2" fill="#fff" stroke="#505050" stroke-width="1.3"/>
<line x1="84.7" y1="38.6" x2="142" y2="38.6" stroke="#FF00A0" stroke-width="2.2"/>
<line x1="84.7" y1="59.3" x2="142" y2="59.3" stroke="#0072BD" stroke-width="2.2"/>
<text class="leg" transform="translate(146.5,44.6) scale(1,1.06)">Effective wind</text>
<text class="leg" transform="translate(146.5,65) scale(1,1.06)">Point wind</text>
</svg>
</body></html>
